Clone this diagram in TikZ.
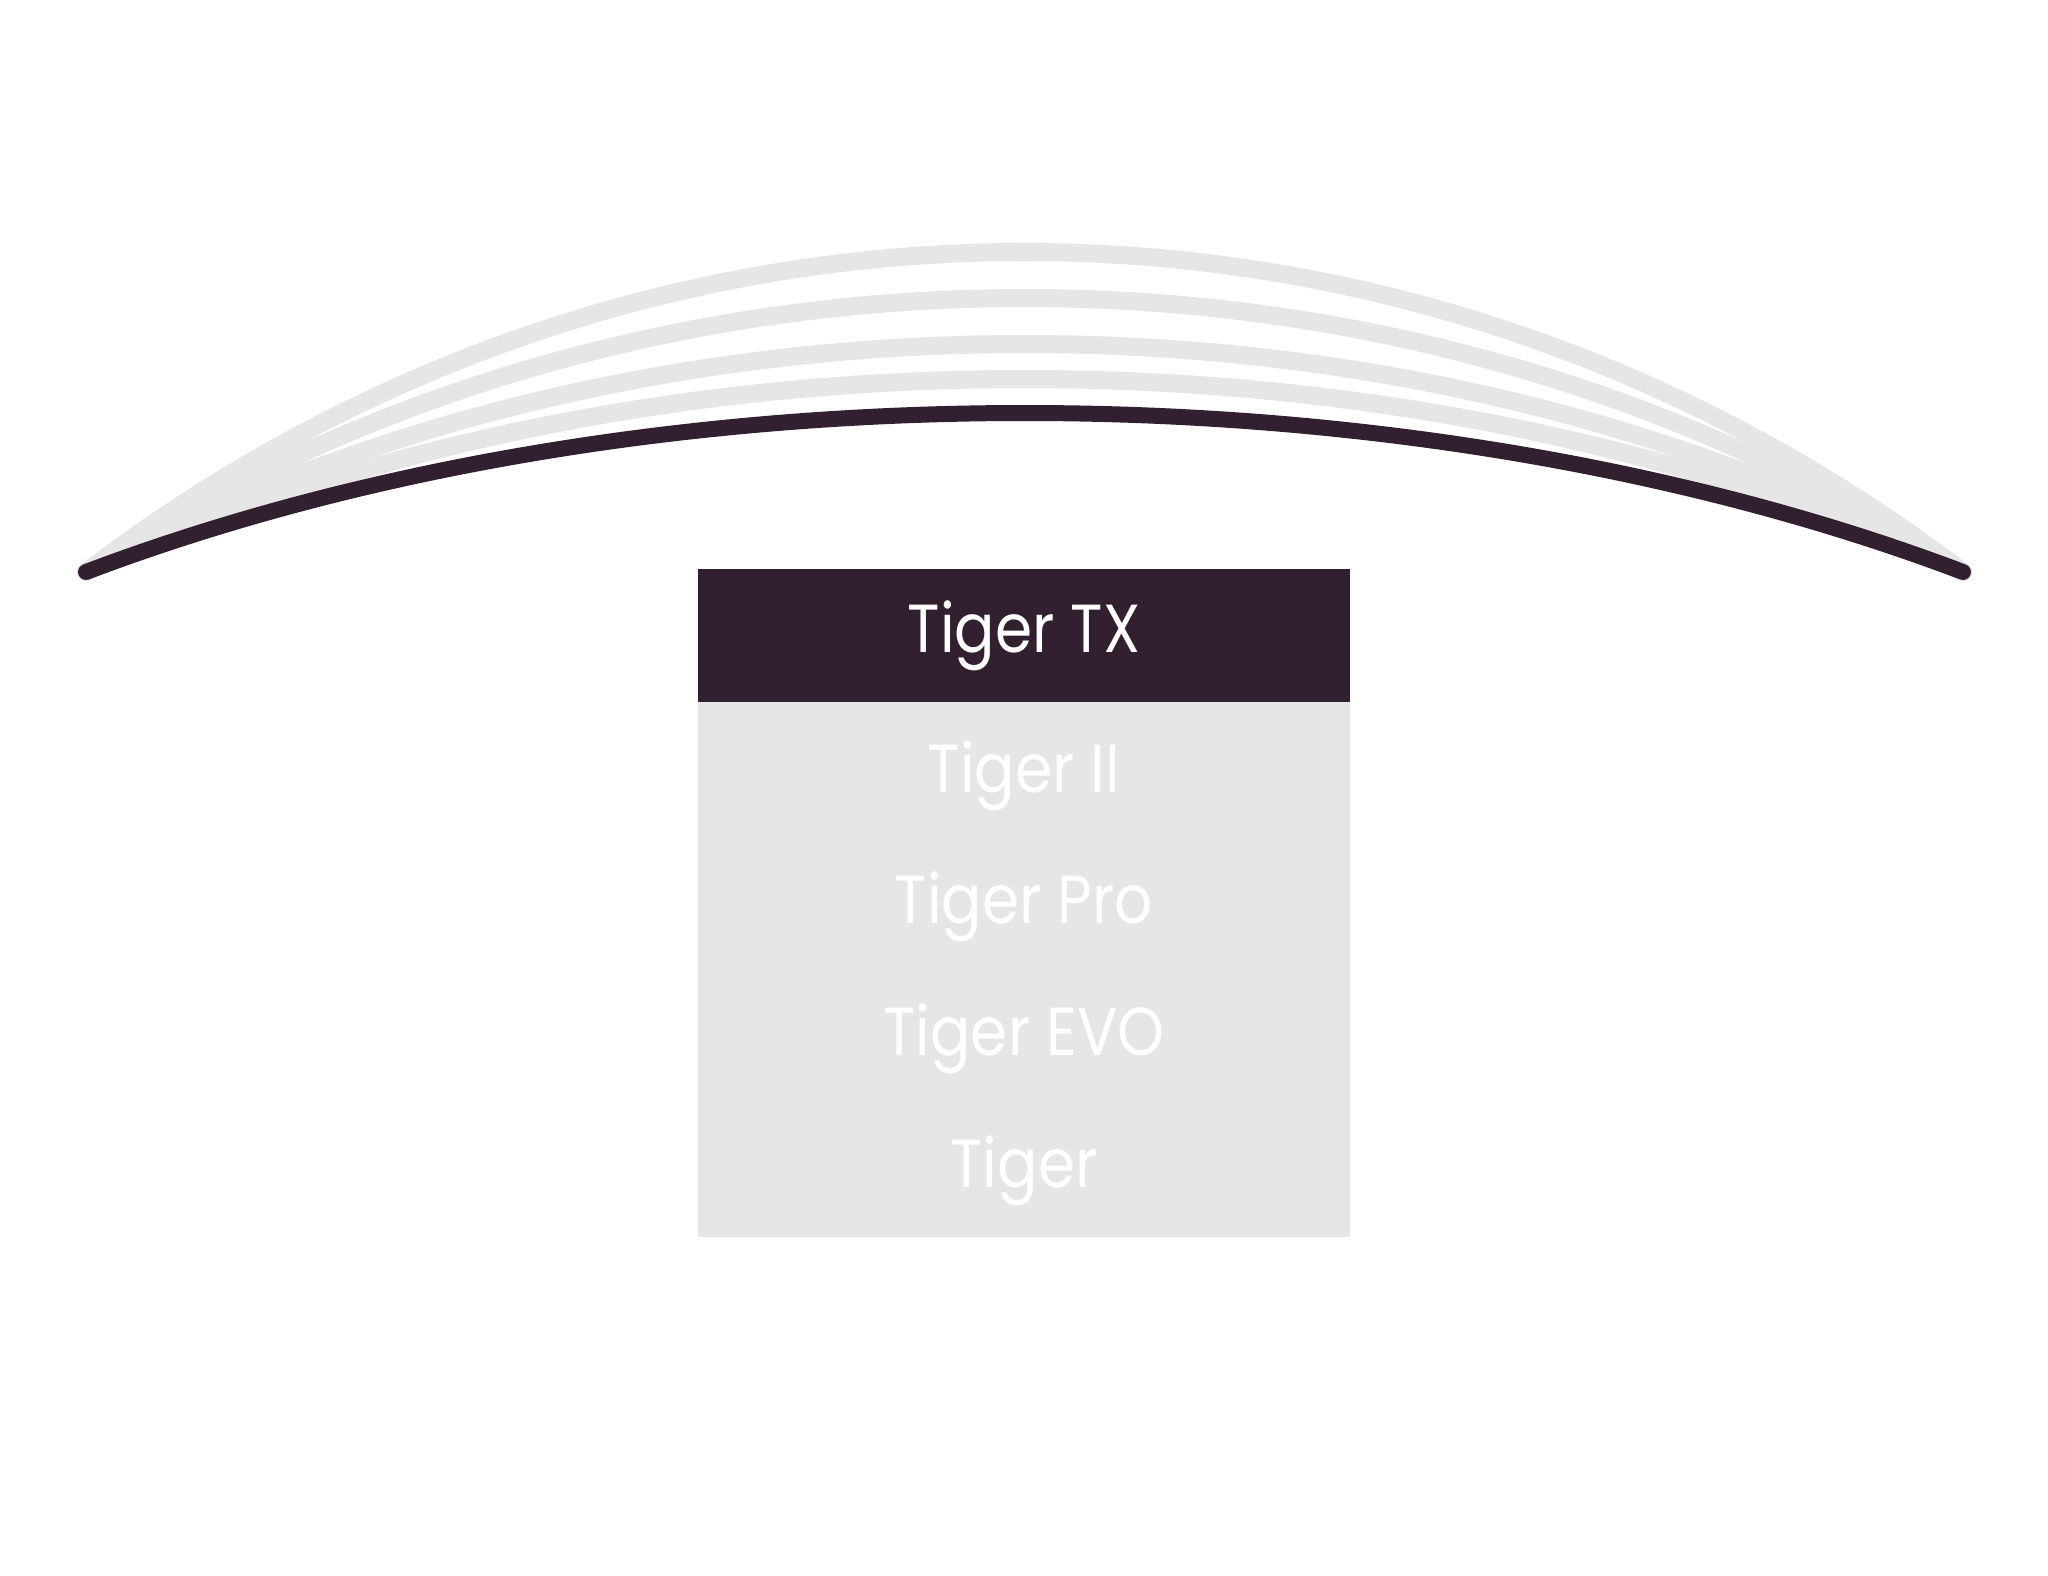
\documentclass[tikz,border=0pt]{standalone}
\usepackage{fontspec}
\setmainfont{Poppins}
\definecolor{darkplum}{HTML}{321F2F}
\definecolor{lightgray}{HTML}{E6E6E6}
\begin{document}
\begin{tikzpicture}[x=1pt,y=-1pt,
  grayarc/.style={draw=lightgray,line width=18pt,line cap=round},
  darkarc/.style={draw=darkplum,line width=16pt,line cap=round},
  label/.style={text=white,font=\fontsize{68}{72}\selectfont,anchor=base,inner sep=0pt,xscale=0.88,transform shape}]
\useasboundingbox (0,0) rectangle (2048,1576);
\fill[white] (0,0) rectangle (2048,1576);
\coordinate (L) at (86,572);
\coordinate (R) at (1963,572);
% light arcs
\draw[grayarc] (L) .. controls +(560,-426.7) and +(-560,-426.7) .. (R);
\draw[grayarc] (L) .. controls +(560,-365.3) and +(-560,-365.3) .. (R);
\draw[grayarc] (L) .. controls +(560,-304) and +(-560,-304) .. (R);
\draw[grayarc] (L) .. controls +(560,-257.3) and +(-560,-257.3) .. (R);
% dark arc
\draw[darkarc] (L) .. controls +(560,-212) and +(-560,-212) .. (R);
% box
\fill[lightgray] (698,702) rectangle (1350,1237);
\fill[darkplum] (698,569) rectangle (1350,702);
\node[label] (tx) at (1024,652) {Tiger TX};
\node[label] (tii) at (1024,792) {Tiger II};
\node[label] (tpro) at (1024,923) {Tiger Pro};
\node[label] (tevo) at (1024,1055) {Tiger EVO};
\node[label] (t) at (1024,1187) {Tiger};
\end{tikzpicture}
\end{document}
